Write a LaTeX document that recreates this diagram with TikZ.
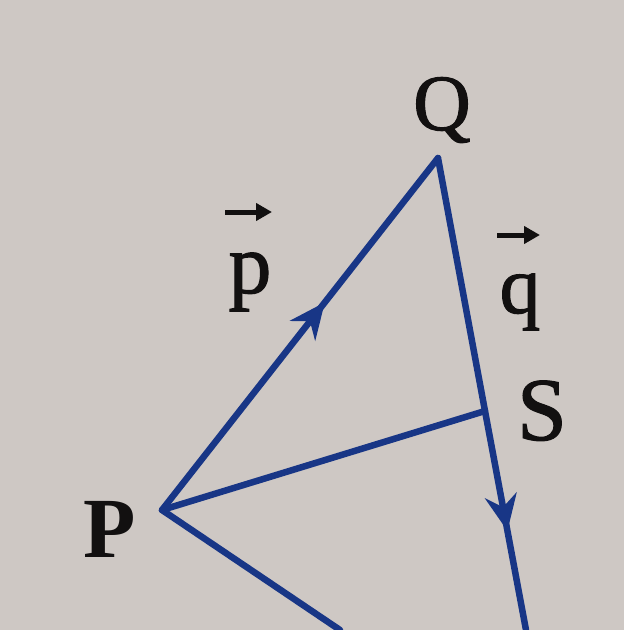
\documentclass[tikz,border=0pt]{standalone}
\usepackage{fontspec}
\setmainfont{Liberation Serif}
\newfontfamily\semiserif[FakeBold=1.3]{Liberation Serif}
\usetikzlibrary{arrows.meta,decorations.markings,calc}
\definecolor{paper}{RGB}{206,200,196}
\definecolor{ink}{RGB}{24,54,134}
\definecolor{txt}{RGB}{18,16,16}
\begin{document}
\begin{tikzpicture}[x=1bp,y=-1bp,
  seg/.style={draw=ink,line width=6.5bp,line cap=round,line join=round},
  midarrow/.style={postaction={decorate},decoration={markings,
     mark=at position #1 with {\arrow{Stealth[length=36bp,width=32bp,inset=12bp,ink]}}}},
  lbl/.style={text=txt,inner sep=0pt,anchor=base},
  vecar/.style={draw=txt,line width=5bp,-{Triangle[length=16bp,width=17bp]}}]
\fill[paper] (0,0) rectangle (624,630);
\useasboundingbox (0,0) rectangle (624,630);
\coordinate (P) at (162,510);
\coordinate (Q) at (438,158);
\coordinate (S) at (485,411);
\coordinate (E1) at (526,630);
\coordinate (E2) at (340,630);
\draw[seg,midarrow=0.59] (P) -- (Q);
\draw[seg,midarrow=0.79] (Q) -- (S) -- (E1);
\draw[seg] (P) -- (S);
\draw[seg] (P) -- (E2);
\node[lbl,font=\semiserif\fontsize{80}{80}\selectfont] (qlab) at (442,130) {Q};
\node[lbl,font=\bfseries\fontsize{86}{86}\selectfont] (plab) at (110,557) {P};
\node[lbl,font=\semiserif\fontsize{90}{90}\selectfont] (slab) at (542,440) {S};
\node[lbl,font=\semiserif\fontsize{86}{86}\selectfont] (pv) at (250,293) {p};
\node[lbl,font=\semiserif\fontsize{82}{82}\selectfont] (qv) at (520,313) {q};
\draw[vecar] ($(pv.base)+(-25,-81)$) -- ++(47,0);
\draw[vecar] ($(qv.base)+(-23,-78)$) -- ++(43,0);
\end{tikzpicture}
\end{document}
